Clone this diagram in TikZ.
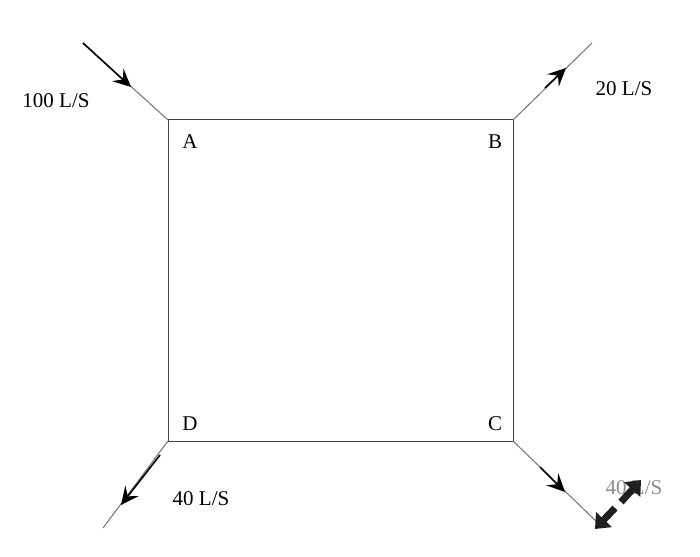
\documentclass[tikz,border=0pt]{standalone}
\usepackage{fontspec}
\setmainfont{Liberation Serif}
\usetikzlibrary{arrows.meta,calc}
\begin{document}
\begin{tikzpicture}[x=1pt,y=-1pt,
  lbl/.style={font=\fontsize{21}{24}\selectfont, inner sep=0pt},
  pipe/.style={draw=black!55, line width=1pt},
  flow/.style={draw=black, line width=1.6pt, -{Stealth[length=18pt,width=17pt,inset=7pt]}}]
\useasboundingbox (0,0) rectangle (700,556);
\coordinate (A) at (168,120);
\coordinate (B) at (513,120);
\coordinate (C) at (513,441);
\coordinate (D) at (168,441);
\draw[draw=black!75, line width=1pt] (A) -- (B) -- (C) -- (D) -- cycle;
\node[lbl] (la) at (190,142) {A};
\node[lbl] (lb) at (495,142) {B};
\node[lbl] (lc) at (495,424) {C};
\node[lbl] (ld) at (190,424) {D};
% inflow at A
\coordinate (ea) at (83,43);
\coordinate (ta) at (131,87);
\draw[pipe] (ea) -- (A);
\draw[flow] (ea) -- (ta);
\node[lbl] (qa) at (56,101) {100 L/S};
% outflow at B
\coordinate (eb) at (592,43);
\coordinate (sb) at (545,88);
\coordinate (tb) at (566,68);
\draw[pipe] (B) -- (eb);
\draw[flow] (sb) -- (tb);
\node[lbl] (qb) at (624,89) {20 L/S};
% outflow at D
\coordinate (ed) at (103,528);
\coordinate (sd) at (160,455);
\coordinate (td) at (121,505);
\draw[pipe] (D) -- (ed);
\draw[flow] (sd) -- (td);
\node[lbl] (qd) at (201,499) {40 L/S};
% outflow at C
\coordinate (ec) at (597,522);
\coordinate (sc) at (540,467);
\coordinate (tc) at (565,492);
\draw[pipe] (C) -- (ec);
\draw[flow] (sc) -- (tc);
\node[lbl, text=black!45] (qc) at (634,488) {40 L/S};
% resize icon overlay
\coordinate (im) at (618,505);
\coordinate (i1) at (641,480);
\coordinate (i2) at (595,529);
\draw[line width=7pt, black!88, -{Triangle[length=13pt,width=21pt]}] ($(im)+(3,-3)$) -- (i1);
\draw[line width=7pt, black!88, -{Triangle[length=13pt,width=21pt]}] ($(im)+(-3,3)$) -- (i2);
\end{tikzpicture}
\end{document}
